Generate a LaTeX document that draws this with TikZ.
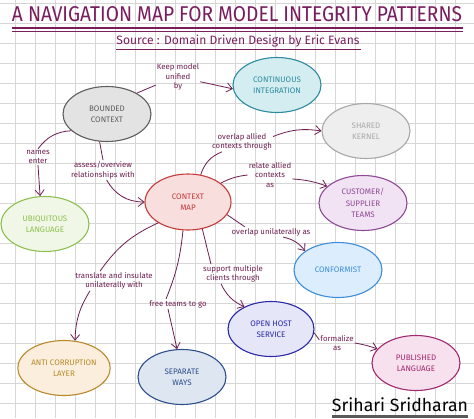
\documentclass[tikz,border=0pt]{standalone}
\usepackage{fontspec}
\setmainfont{Fira Sans}
\usepackage{graphicx}
\usetikzlibrary{shapes, arrows.meta}
\definecolor{ink}{HTML}{6E1E50}
\definecolor{titleink}{HTML}{7A1D5E}
\definecolor{bcfill}{HTML}{E3E3E3}\definecolor{bcline}{HTML}{5E5E5E}
\definecolor{cifill}{HTML}{D4EDF1}\definecolor{ciline}{HTML}{2C8C9E}
\definecolor{skfill}{HTML}{EEEEEE}\definecolor{skline}{HTML}{A8A8A8}
\definecolor{cstfill}{HTML}{F1E3F3}\definecolor{cstline}{HTML}{8E4A94}
\definecolor{cmfill}{HTML}{F9DEDE}\definecolor{cmline}{HTML}{C43A3A}
\definecolor{ulfill}{HTML}{F1F7E6}\definecolor{ulline}{HTML}{8DC050}
\definecolor{conffill}{HTML}{DCEEFD}\definecolor{confline}{HTML}{3C8DDA}
\definecolor{ohsfill}{HTML}{E6E6F9}\definecolor{ohsline}{HTML}{2A2AA8}
\definecolor{plfill}{HTML}{F7E1EF}\definecolor{plline}{HTML}{A3286E}
\definecolor{aclfill}{HTML}{FBEEDC}\definecolor{aclline}{HTML}{B88A2C}
\definecolor{swfill}{HTML}{DEE6F2}\definecolor{swline}{HTML}{2E4E8C}
\tikzstyle{gridline}=[black!16, line width=0.6pt]
\tikzstyle{patternbox}=[ellipse, draw, line width=1.1pt, minimum width=88pt, minimum height=55pt, inner sep=0pt, align=center, font=\fontsize{8}{11.5}\selectfont]
\tikzstyle{edgelabel}=[text=ink, align=center, inner sep=1pt, font=\fontsize{7.8}{9.5}\selectfont]
\tikzstyle{linkline}=[ink, line width=0.8pt]
\tikzstyle{linkarrow}=[ink, line width=0.8pt, -{Straight Barb[length=2mm, width=3.2mm]}]

\begin{document}
\begin{tikzpicture}[x=1pt, y=-1pt]
    \fill[white] (0,0) rectangle (474,418);
    \useasboundingbox (0,0) rectangle (474,418);
    \foreach \x in {15,35,...,474} \draw[gridline] (\x,0) -- (\x,418);
    \foreach \y in {3,23,...,418} \draw[gridline] (0,\y) -- (474,\y);

    \node	[inner sep=0pt, text=titleink]	(title) at (237,14.5) {\resizebox{450pt}{15pt}{A NAVIGATION MAP FOR MODEL INTEGRITY PATTERNS}};
    \draw[titleink, line width=1.2pt] (12,28) -- (463,28);
    \draw[titleink, line width=1.2pt] (12,31.5) -- (463,31.5);
    \node	[inner sep=0pt, text=titleink]	(source) at (238,41) {\resizebox{243pt}{!}{Source : Domain Driven Design by Eric Evans}};
    \draw[titleink, line width=0.9pt] (116,49) -- (361,49);

    \node	[patternbox, fill=bcfill, draw=bcline, text=bcline]		(bc) at (107,114) {BOUNDED\\CONTEXT};
    \node	[patternbox, fill=cifill, draw=ciline, text=ciline]		(ci) at (277,85) {CONTINUOUS\\INTEGRATION};
    \node	[patternbox, fill=skfill, draw=skline, text=skline]		(sk) at (366,131) {SHARED\\KERNEL};
    \node	[patternbox, fill=cstfill, draw=cstline, text=cstline]	(cst) at (363,203) {CUSTOMER/\\SUPPLIER\\TEAMS};
    \node	[patternbox, fill=cmfill, draw=cmline, text=cmline, minimum width=86pt, minimum height=56pt]	(cm) at (188,202) {CONTEXT\\MAP};
    \node	[patternbox, fill=ulfill, draw=ulline, text=ulline]		(ul) at (45,224) {UBIQUITOUS\\LANGUAGE};
    \node	[patternbox, fill=conffill, draw=confline, text=confline]	(conf) at (338,270) {CONFORMIST};
    \node	[patternbox, fill=ohsfill, draw=ohsline, text=ohsline, minimum width=86pt]	(ohs) at (271,329) {OPEN HOST\\SERVICE};
    \node	[patternbox, fill=plfill, draw=plline, text=plline]		(pl) at (416,363) {PUBLISHED\\LANGUAGE};
    \node	[patternbox, fill=aclfill, draw=aclline, text=aclline]	(acl) at (64,368) {ANTI CORRUPTION\\LAYER};
    \node	[patternbox, fill=swfill, draw=swline, text=swline]		(sw) at (182,377) {SEPARATE\\WAYS};

    \node	[edgelabel]	(keep) at (178,77) {Keep model\\unified\\by};
    \node	[edgelabel]	(names) at (38,157) {names\\enter};
    \node	[edgelabel]	(assess) at (103,170) {assess/overview\\relationships with};
    \node	[edgelabel]	(allied) at (242,142) {overlap allied\\contexts through};
    \node	[edgelabel]	(relate) at (270,175) {relate allied\\contexts\\as};
    \node	[edgelabel]	(unilat) at (271,232) {overlap unilaterally as};
    \node	[edgelabel]	(support) at (233,274) {support multiple\\clients through};
    \node	[edgelabel]	(free) at (178,304) {free teams to go};
    \node	[edgelabel]	(translate) at (114,281) {translate and insulate\\unilaterally with};
    \node	[edgelabel]	(formalize) at (337,343) {formalize\\as};

    \draw[linkline] (bc.35) -- (keep.200);
    \draw[linkarrow] (keep.-12) -- (ci.185);
    \draw[linkline] (bc.205) to [bend right=25] (names.north);
    \draw[linkarrow] (names.south) -- (ul.100);
    \draw[linkline] (bc.255) -- (assess.north);
    \draw[linkarrow] (assess.-70) to [bend right=30] (cm.west);
    \draw[linkline] (cm.65) to [bend left=25] ([xshift=-20pt]allied.south);
    \draw[linkarrow] (allied.10) to [bend left=15] (sk.west);
    \draw[linkline] (cm.30) to [bend left=10] (relate.west);
    \draw[linkarrow] (relate.-10) to [bend left=8] (cst.155);
    \draw[linkline] (cm.-18) -- ([xshift=-26pt]unilat.north);
    \draw[linkarrow] ([xshift=12pt]unilat.south) to [bend left=20] (conf.150);
    \draw[linkline] (cm.-62) -- ([xshift=-22pt]support.north);
    \draw[linkarrow] ([xshift=-12pt]support.south) to [bend right=20] (ohs.140);
    \draw[linkline] (cm.-100) to [bend left=8] ([xshift=-12pt]free.north);
    \draw[linkarrow] ([xshift=-10pt]free.south) -- (sw.100);
    \draw[linkline] (cm.215) to [bend right=15] ([xshift=-14pt]translate.north);
    \draw[linkarrow] ([xshift=-24pt]translate.south) to [bend right=15] (acl.68);
    \draw[linkline] (ohs.-5) -- (formalize.170);
    \draw[linkarrow] (formalize.east) to [bend left=5] (pl.160);

    \node	[inner sep=0pt]	(author) at (400,405) {\resizebox{136pt}{!}{Srihari Sridharan}};
    \fill[black!65] (332,415) rectangle (468,418);
\end{tikzpicture}
\end{document}
